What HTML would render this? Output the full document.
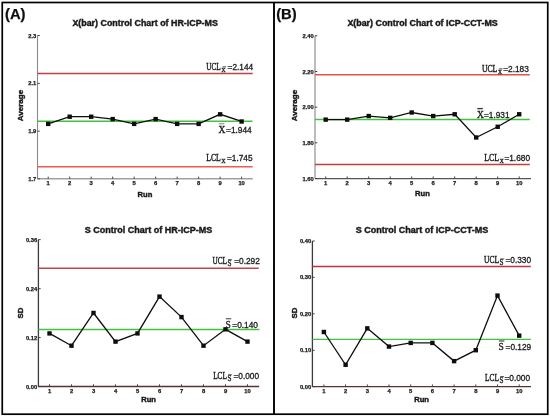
<!DOCTYPE html>
<html><head><meta charset="utf-8"><style>
html,body{margin:0;padding:0;background:#fff;}
svg{display:block;}
</style></head><body>
<svg width="550" height="417" viewBox="0 0 550 417">
<defs><filter id="soft" x="0" y="0" width="550" height="417" filterUnits="userSpaceOnUse"><feGaussianBlur stdDeviation="0.35"/></filter></defs>
<rect x="0" y="0" width="550" height="417" fill="#fff"/>
<g filter="url(#soft)">
<rect x="2.25" y="2.5" width="545.5" height="411.7" fill="none" stroke="#000" stroke-width="1.7"/>
<line x1="274" y1="2.5" x2="274" y2="414.2" stroke="#000" stroke-width="1.9"/>
<line x1="37.5" y1="35.5" x2="37.5" y2="178.8" stroke="#8a8a8a" stroke-width="1.1"/>
<line x1="37.5" y1="178.8" x2="252.8" y2="178.8" stroke="#a0a0a0" stroke-width="1.5"/>
<line x1="37.5" y1="35.5" x2="39.8" y2="35.5" stroke="#333" stroke-width="0.9"/>
<text x="36.3" y="37.5" font-family='"Liberation Sans", sans-serif' font-size="5.8" font-weight="bold" text-anchor="end" fill="#1a1a1a" stroke="#1a1a1a" stroke-width="0.25" >2.3</text>
<line x1="37.5" y1="83.4" x2="39.8" y2="83.4" stroke="#333" stroke-width="0.9"/>
<text x="36.3" y="85.4" font-family='"Liberation Sans", sans-serif' font-size="5.8" font-weight="bold" text-anchor="end" fill="#1a1a1a" stroke="#1a1a1a" stroke-width="0.25" >2.1</text>
<line x1="37.5" y1="131.2" x2="39.8" y2="131.2" stroke="#333" stroke-width="0.9"/>
<text x="36.3" y="133.2" font-family='"Liberation Sans", sans-serif' font-size="5.8" font-weight="bold" text-anchor="end" fill="#1a1a1a" stroke="#1a1a1a" stroke-width="0.25" >1.9</text>
<line x1="37.5" y1="178.8" x2="39.8" y2="178.8" stroke="#333" stroke-width="0.9"/>
<text x="36.3" y="180.8" font-family='"Liberation Sans", sans-serif' font-size="5.8" font-weight="bold" text-anchor="end" fill="#1a1a1a" stroke="#1a1a1a" stroke-width="0.25" >1.7</text>
<line x1="48.2" y1="178.8" x2="48.2" y2="176.60000000000002" stroke="#333" stroke-width="0.9"/>
<text x="48.2" y="185.3" font-family='"Liberation Sans", sans-serif' font-size="5.8" font-weight="bold" text-anchor="middle" fill="#1a1a1a" stroke="#1a1a1a" stroke-width="0.25" >1</text>
<line x1="69.69" y1="178.8" x2="69.69" y2="176.60000000000002" stroke="#333" stroke-width="0.9"/>
<text x="69.69" y="185.3" font-family='"Liberation Sans", sans-serif' font-size="5.8" font-weight="bold" text-anchor="middle" fill="#1a1a1a" stroke="#1a1a1a" stroke-width="0.25" >2</text>
<line x1="91.18" y1="178.8" x2="91.18" y2="176.60000000000002" stroke="#333" stroke-width="0.9"/>
<text x="91.18" y="185.3" font-family='"Liberation Sans", sans-serif' font-size="5.8" font-weight="bold" text-anchor="middle" fill="#1a1a1a" stroke="#1a1a1a" stroke-width="0.25" >3</text>
<line x1="112.67" y1="178.8" x2="112.67" y2="176.60000000000002" stroke="#333" stroke-width="0.9"/>
<text x="112.67" y="185.3" font-family='"Liberation Sans", sans-serif' font-size="5.8" font-weight="bold" text-anchor="middle" fill="#1a1a1a" stroke="#1a1a1a" stroke-width="0.25" >4</text>
<line x1="134.16" y1="178.8" x2="134.16" y2="176.60000000000002" stroke="#333" stroke-width="0.9"/>
<text x="134.16" y="185.3" font-family='"Liberation Sans", sans-serif' font-size="5.8" font-weight="bold" text-anchor="middle" fill="#1a1a1a" stroke="#1a1a1a" stroke-width="0.25" >5</text>
<line x1="155.64999999999998" y1="178.8" x2="155.64999999999998" y2="176.60000000000002" stroke="#333" stroke-width="0.9"/>
<text x="155.64999999999998" y="185.3" font-family='"Liberation Sans", sans-serif' font-size="5.8" font-weight="bold" text-anchor="middle" fill="#1a1a1a" stroke="#1a1a1a" stroke-width="0.25" >6</text>
<line x1="177.14" y1="178.8" x2="177.14" y2="176.60000000000002" stroke="#333" stroke-width="0.9"/>
<text x="177.14" y="185.3" font-family='"Liberation Sans", sans-serif' font-size="5.8" font-weight="bold" text-anchor="middle" fill="#1a1a1a" stroke="#1a1a1a" stroke-width="0.25" >7</text>
<line x1="198.63" y1="178.8" x2="198.63" y2="176.60000000000002" stroke="#333" stroke-width="0.9"/>
<text x="198.63" y="185.3" font-family='"Liberation Sans", sans-serif' font-size="5.8" font-weight="bold" text-anchor="middle" fill="#1a1a1a" stroke="#1a1a1a" stroke-width="0.25" >8</text>
<line x1="220.12" y1="178.8" x2="220.12" y2="176.60000000000002" stroke="#333" stroke-width="0.9"/>
<text x="220.12" y="185.3" font-family='"Liberation Sans", sans-serif' font-size="5.8" font-weight="bold" text-anchor="middle" fill="#1a1a1a" stroke="#1a1a1a" stroke-width="0.25" >9</text>
<line x1="241.61" y1="178.8" x2="241.61" y2="176.60000000000002" stroke="#333" stroke-width="0.9"/>
<text x="241.61" y="185.3" font-family='"Liberation Sans", sans-serif' font-size="5.8" font-weight="bold" text-anchor="middle" fill="#1a1a1a" stroke="#1a1a1a" stroke-width="0.25" >10</text>
<line x1="37.5" y1="73.5" x2="252.7" y2="73.5" stroke="#c83c44" stroke-width="1.5"/>
<line x1="37.5" y1="166.8" x2="252.7" y2="166.8" stroke="#f25858" stroke-width="1.5"/>
<line x1="37.5" y1="121.3" x2="252.5" y2="121.3" stroke="#40c440" stroke-width="1.4"/>
<polyline points="48.20,123.88 69.69,116.71 91.18,116.71 112.67,119.10 134.16,123.88 155.65,119.10 177.14,123.88 198.63,123.88 220.12,114.32 241.61,121.49" fill="none" stroke="#111" stroke-width="1.3"/>
<rect x="46.00" y="121.68" width="4.4" height="4.4" fill="#111"/>
<rect x="67.49" y="114.51" width="4.4" height="4.4" fill="#111"/>
<rect x="88.98" y="114.51" width="4.4" height="4.4" fill="#111"/>
<rect x="110.47" y="116.90" width="4.4" height="4.4" fill="#111"/>
<rect x="131.96" y="121.68" width="4.4" height="4.4" fill="#111"/>
<rect x="153.45" y="116.90" width="4.4" height="4.4" fill="#111"/>
<rect x="174.94" y="121.68" width="4.4" height="4.4" fill="#111"/>
<rect x="196.43" y="121.68" width="4.4" height="4.4" fill="#111"/>
<rect x="217.92" y="112.12" width="4.4" height="4.4" fill="#111"/>
<rect x="239.41" y="119.29" width="4.4" height="4.4" fill="#111"/>
<text x="72.4" y="25.9" font-family='"Liberation Sans", sans-serif' font-size="8.9" font-weight="bold" text-anchor="start" fill="#1a1a1a" stroke="#1a1a1a" stroke-width="0.42" >X(bar) Control Chart of HR-ICP-MS</text>
<text x="0" y="0" transform="translate(22.6,105.5) rotate(-90)" font-family='"Liberation Sans", sans-serif' font-size="8.1" font-weight="bold" text-anchor="middle" fill="#1a1a1a" stroke="#1a1a1a" stroke-width="0.4">Average</text>
<text x="145" y="196.5" font-family='"Liberation Sans", sans-serif' font-size="7.6" font-weight="bold" text-anchor="middle" fill="#1a1a1a" stroke="#1a1a1a" stroke-width="0.42" >Run</text>
<text x="206.3" y="69.8" font-family='"Liberation Serif", serif' font-size="9.5" fill="#1a1a1a" stroke="#1a1a1a" stroke-width="0.4" textLength="14.5" lengthAdjust="spacingAndGlyphs">UCL</text>
<text x="221.4" y="71.6" font-family='"Liberation Serif", serif' font-size="8.0" fill="#1a1a1a" stroke="#1a1a1a" stroke-width="0.3">x</text>
<line x1="222.6" y1="66.8" x2="226.0" y2="66.8" stroke="#444" stroke-width="0.9"/>
<text x="253.2" y="69.8" font-family='"Liberation Sans", sans-serif' font-size="8.3" font-weight="normal" text-anchor="end" fill="#1a1a1a" stroke="#1a1a1a" stroke-width="0.3" >=2.144</text>
<text x="206.3" y="160.9" font-family='"Liberation Serif", serif' font-size="9.5" fill="#1a1a1a" stroke="#1a1a1a" stroke-width="0.4" textLength="14.5" lengthAdjust="spacingAndGlyphs">LCL</text>
<text x="221.4" y="162.70000000000002" font-family='"Liberation Serif", serif' font-size="8.0" fill="#1a1a1a" stroke="#1a1a1a" stroke-width="0.3">x</text>
<text x="252.6" y="160.9" font-family='"Liberation Sans", sans-serif' font-size="8.3" font-weight="normal" text-anchor="end" fill="#1a1a1a" stroke="#1a1a1a" stroke-width="0.3" >=1.745</text>
<text x="218.5" y="132.7" font-family='"Liberation Serif", serif' font-size="9.5" fill="#1a1a1a" stroke="#1a1a1a" stroke-width="0.3">X</text>
<line x1="218.8" y1="123.7" x2="224.3" y2="123.7" stroke="#a0a0a0" stroke-width="1.3"/>
<text x="251.7" y="132.7" font-family='"Liberation Sans", sans-serif' font-size="8.3" font-weight="normal" text-anchor="end" fill="#1a1a1a" stroke="#1a1a1a" stroke-width="0.3" >=1.944</text>
<line x1="38.4" y1="239.6" x2="38.4" y2="386.5" stroke="#3a3a3a" stroke-width="1.3"/>
<line x1="38.4" y1="386.5" x2="259.2" y2="386.5" stroke="#5a3236" stroke-width="1.4"/>
<line x1="38.4" y1="239.6" x2="40.699999999999996" y2="239.6" stroke="#333" stroke-width="0.9"/>
<text x="37.199999999999996" y="241.6" font-family='"Liberation Sans", sans-serif' font-size="5.8" font-weight="bold" text-anchor="end" fill="#1a1a1a" stroke="#1a1a1a" stroke-width="0.25" >0.36</text>
<line x1="38.4" y1="288.7" x2="40.699999999999996" y2="288.7" stroke="#333" stroke-width="0.9"/>
<text x="37.199999999999996" y="290.7" font-family='"Liberation Sans", sans-serif' font-size="5.8" font-weight="bold" text-anchor="end" fill="#1a1a1a" stroke="#1a1a1a" stroke-width="0.25" >0.24</text>
<line x1="38.4" y1="337.6" x2="40.699999999999996" y2="337.6" stroke="#333" stroke-width="0.9"/>
<text x="37.199999999999996" y="339.6" font-family='"Liberation Sans", sans-serif' font-size="5.8" font-weight="bold" text-anchor="end" fill="#1a1a1a" stroke="#1a1a1a" stroke-width="0.25" >0.12</text>
<line x1="38.4" y1="386.6" x2="40.699999999999996" y2="386.6" stroke="#333" stroke-width="0.9"/>
<text x="37.199999999999996" y="388.6" font-family='"Liberation Sans", sans-serif' font-size="5.8" font-weight="bold" text-anchor="end" fill="#1a1a1a" stroke="#1a1a1a" stroke-width="0.25" >0.00</text>
<line x1="49.5" y1="386.5" x2="49.5" y2="384.3" stroke="#333" stroke-width="0.9"/>
<text x="49.5" y="393.0" font-family='"Liberation Sans", sans-serif' font-size="5.8" font-weight="bold" text-anchor="middle" fill="#1a1a1a" stroke="#1a1a1a" stroke-width="0.25" >1</text>
<line x1="71.5" y1="386.5" x2="71.5" y2="384.3" stroke="#333" stroke-width="0.9"/>
<text x="71.5" y="393.0" font-family='"Liberation Sans", sans-serif' font-size="5.8" font-weight="bold" text-anchor="middle" fill="#1a1a1a" stroke="#1a1a1a" stroke-width="0.25" >2</text>
<line x1="93.5" y1="386.5" x2="93.5" y2="384.3" stroke="#333" stroke-width="0.9"/>
<text x="93.5" y="393.0" font-family='"Liberation Sans", sans-serif' font-size="5.8" font-weight="bold" text-anchor="middle" fill="#1a1a1a" stroke="#1a1a1a" stroke-width="0.25" >3</text>
<line x1="115.5" y1="386.5" x2="115.5" y2="384.3" stroke="#333" stroke-width="0.9"/>
<text x="115.5" y="393.0" font-family='"Liberation Sans", sans-serif' font-size="5.8" font-weight="bold" text-anchor="middle" fill="#1a1a1a" stroke="#1a1a1a" stroke-width="0.25" >4</text>
<line x1="137.5" y1="386.5" x2="137.5" y2="384.3" stroke="#333" stroke-width="0.9"/>
<text x="137.5" y="393.0" font-family='"Liberation Sans", sans-serif' font-size="5.8" font-weight="bold" text-anchor="middle" fill="#1a1a1a" stroke="#1a1a1a" stroke-width="0.25" >5</text>
<line x1="159.5" y1="386.5" x2="159.5" y2="384.3" stroke="#333" stroke-width="0.9"/>
<text x="159.5" y="393.0" font-family='"Liberation Sans", sans-serif' font-size="5.8" font-weight="bold" text-anchor="middle" fill="#1a1a1a" stroke="#1a1a1a" stroke-width="0.25" >6</text>
<line x1="181.5" y1="386.5" x2="181.5" y2="384.3" stroke="#333" stroke-width="0.9"/>
<text x="181.5" y="393.0" font-family='"Liberation Sans", sans-serif' font-size="5.8" font-weight="bold" text-anchor="middle" fill="#1a1a1a" stroke="#1a1a1a" stroke-width="0.25" >7</text>
<line x1="203.5" y1="386.5" x2="203.5" y2="384.3" stroke="#333" stroke-width="0.9"/>
<text x="203.5" y="393.0" font-family='"Liberation Sans", sans-serif' font-size="5.8" font-weight="bold" text-anchor="middle" fill="#1a1a1a" stroke="#1a1a1a" stroke-width="0.25" >8</text>
<line x1="225.5" y1="386.5" x2="225.5" y2="384.3" stroke="#333" stroke-width="0.9"/>
<text x="225.5" y="393.0" font-family='"Liberation Sans", sans-serif' font-size="5.8" font-weight="bold" text-anchor="middle" fill="#1a1a1a" stroke="#1a1a1a" stroke-width="0.25" >9</text>
<line x1="247.5" y1="386.5" x2="247.5" y2="384.3" stroke="#333" stroke-width="0.9"/>
<text x="247.5" y="393.0" font-family='"Liberation Sans", sans-serif' font-size="5.8" font-weight="bold" text-anchor="middle" fill="#1a1a1a" stroke="#1a1a1a" stroke-width="0.25" >10</text>
<line x1="38.4" y1="268.3" x2="258.8" y2="268.3" stroke="#be4650" stroke-width="1.5"/>
<line x1="38.4" y1="329.5" x2="259.4" y2="329.5" stroke="#40c440" stroke-width="1.4"/>
<polyline points="49.50,333.43 71.50,345.70 93.50,312.98 115.50,341.61 137.50,333.43 159.50,296.62 181.50,317.07 203.50,345.70 225.50,329.34 247.50,341.61" fill="none" stroke="#111" stroke-width="1.3"/>
<rect x="47.30" y="331.23" width="4.4" height="4.4" fill="#111"/>
<rect x="69.30" y="343.50" width="4.4" height="4.4" fill="#111"/>
<rect x="91.30" y="310.78" width="4.4" height="4.4" fill="#111"/>
<rect x="113.30" y="339.41" width="4.4" height="4.4" fill="#111"/>
<rect x="135.30" y="331.23" width="4.4" height="4.4" fill="#111"/>
<rect x="157.30" y="294.42" width="4.4" height="4.4" fill="#111"/>
<rect x="179.30" y="314.87" width="4.4" height="4.4" fill="#111"/>
<rect x="201.30" y="343.50" width="4.4" height="4.4" fill="#111"/>
<rect x="223.30" y="327.14" width="4.4" height="4.4" fill="#111"/>
<rect x="245.30" y="339.41" width="4.4" height="4.4" fill="#111"/>
<text x="84.7" y="232.7" font-family='"Liberation Sans", sans-serif' font-size="9.0" font-weight="bold" text-anchor="start" fill="#1a1a1a" stroke="#1a1a1a" stroke-width="0.42" >S Control Chart of HR-ICP-MS</text>
<text x="0" y="0" transform="translate(23.3,313) rotate(-90)" font-family='"Liberation Sans", sans-serif' font-size="7.9" font-weight="bold" text-anchor="middle" fill="#1a1a1a" stroke="#1a1a1a" stroke-width="0.4">SD</text>
<text x="148.6" y="401.9" font-family='"Liberation Sans", sans-serif' font-size="7.6" font-weight="bold" text-anchor="middle" fill="#1a1a1a" stroke="#1a1a1a" stroke-width="0.42" >Run</text>
<text x="212.4" y="264.0" font-family='"Liberation Serif", serif' font-size="9.5" fill="#1a1a1a" stroke="#1a1a1a" stroke-width="0.4" textLength="14.5" lengthAdjust="spacingAndGlyphs">UCL</text>
<text x="227.4" y="265.8" font-family='"Liberation Serif", serif' font-size="7.2" fill="#1a1a1a" stroke="#1a1a1a" stroke-width="0.3">S</text>
<line x1="228.0" y1="259.7" x2="232.0" y2="259.7" stroke="#444" stroke-width="0.9"/>
<text x="259.8" y="264.0" font-family='"Liberation Sans", sans-serif' font-size="8.3" font-weight="normal" text-anchor="end" fill="#1a1a1a" stroke="#1a1a1a" stroke-width="0.3" >=0.292</text>
<text x="213.2" y="379.1" font-family='"Liberation Serif", serif' font-size="9.5" fill="#1a1a1a" stroke="#1a1a1a" stroke-width="0.4" textLength="13.7" lengthAdjust="spacingAndGlyphs">LCL</text>
<text x="227.39999999999998" y="380.90000000000003" font-family='"Liberation Serif", serif' font-size="7.2" fill="#1a1a1a" stroke="#1a1a1a" stroke-width="0.3">S</text>
<line x1="227.99999999999997" y1="374.8" x2="231.99999999999997" y2="374.8" stroke="#444" stroke-width="0.9"/>
<text x="259.1" y="379.1" font-family='"Liberation Sans", sans-serif' font-size="8.3" font-weight="normal" text-anchor="end" fill="#1a1a1a" stroke="#1a1a1a" stroke-width="0.3" >=0.000</text>
<text x="225.5" y="327.5" font-family='"Liberation Serif", serif' font-size="9.5" fill="#1a1a1a" stroke="#1a1a1a" stroke-width="0.3">S</text>
<line x1="225.8" y1="318.7" x2="231.3" y2="318.7" stroke="#666" stroke-width="1.3"/>
<text x="257.9" y="327.5" font-family='"Liberation Sans", sans-serif' font-size="8.3" font-weight="normal" text-anchor="end" fill="#1a1a1a" stroke="#1a1a1a" stroke-width="0.3" >=0.140</text>
<line x1="315.0" y1="35.8" x2="315.0" y2="178.6" stroke="#999999" stroke-width="1.3"/>
<line x1="315.0" y1="178.6" x2="531" y2="178.6" stroke="#555555" stroke-width="1.3"/>
<line x1="315.0" y1="35.8" x2="317.3" y2="35.8" stroke="#333" stroke-width="0.9"/>
<text x="313.8" y="37.8" font-family='"Liberation Sans", sans-serif' font-size="5.8" font-weight="bold" text-anchor="end" fill="#1a1a1a" stroke="#1a1a1a" stroke-width="0.25" >2.40</text>
<line x1="315.0" y1="71.5" x2="317.3" y2="71.5" stroke="#333" stroke-width="0.9"/>
<text x="313.8" y="73.5" font-family='"Liberation Sans", sans-serif' font-size="5.8" font-weight="bold" text-anchor="end" fill="#1a1a1a" stroke="#1a1a1a" stroke-width="0.25" >2.20</text>
<line x1="315.0" y1="107.2" x2="317.3" y2="107.2" stroke="#333" stroke-width="0.9"/>
<text x="313.8" y="109.2" font-family='"Liberation Sans", sans-serif' font-size="5.8" font-weight="bold" text-anchor="end" fill="#1a1a1a" stroke="#1a1a1a" stroke-width="0.25" >2.00</text>
<line x1="315.0" y1="142.8" x2="317.3" y2="142.8" stroke="#333" stroke-width="0.9"/>
<text x="313.8" y="144.8" font-family='"Liberation Sans", sans-serif' font-size="5.8" font-weight="bold" text-anchor="end" fill="#1a1a1a" stroke="#1a1a1a" stroke-width="0.25" >1.80</text>
<line x1="315.0" y1="178.5" x2="317.3" y2="178.5" stroke="#333" stroke-width="0.9"/>
<text x="313.8" y="180.5" font-family='"Liberation Sans", sans-serif' font-size="5.8" font-weight="bold" text-anchor="end" fill="#1a1a1a" stroke="#1a1a1a" stroke-width="0.25" >1.60</text>
<line x1="325.7" y1="178.6" x2="325.7" y2="176.4" stroke="#333" stroke-width="0.9"/>
<text x="325.7" y="185.1" font-family='"Liberation Sans", sans-serif' font-size="5.8" font-weight="bold" text-anchor="middle" fill="#1a1a1a" stroke="#1a1a1a" stroke-width="0.25" >1</text>
<line x1="347.2" y1="178.6" x2="347.2" y2="176.4" stroke="#333" stroke-width="0.9"/>
<text x="347.2" y="185.1" font-family='"Liberation Sans", sans-serif' font-size="5.8" font-weight="bold" text-anchor="middle" fill="#1a1a1a" stroke="#1a1a1a" stroke-width="0.25" >2</text>
<line x1="368.7" y1="178.6" x2="368.7" y2="176.4" stroke="#333" stroke-width="0.9"/>
<text x="368.7" y="185.1" font-family='"Liberation Sans", sans-serif' font-size="5.8" font-weight="bold" text-anchor="middle" fill="#1a1a1a" stroke="#1a1a1a" stroke-width="0.25" >3</text>
<line x1="390.2" y1="178.6" x2="390.2" y2="176.4" stroke="#333" stroke-width="0.9"/>
<text x="390.2" y="185.1" font-family='"Liberation Sans", sans-serif' font-size="5.8" font-weight="bold" text-anchor="middle" fill="#1a1a1a" stroke="#1a1a1a" stroke-width="0.25" >4</text>
<line x1="411.7" y1="178.6" x2="411.7" y2="176.4" stroke="#333" stroke-width="0.9"/>
<text x="411.7" y="185.1" font-family='"Liberation Sans", sans-serif' font-size="5.8" font-weight="bold" text-anchor="middle" fill="#1a1a1a" stroke="#1a1a1a" stroke-width="0.25" >5</text>
<line x1="433.2" y1="178.6" x2="433.2" y2="176.4" stroke="#333" stroke-width="0.9"/>
<text x="433.2" y="185.1" font-family='"Liberation Sans", sans-serif' font-size="5.8" font-weight="bold" text-anchor="middle" fill="#1a1a1a" stroke="#1a1a1a" stroke-width="0.25" >6</text>
<line x1="454.7" y1="178.6" x2="454.7" y2="176.4" stroke="#333" stroke-width="0.9"/>
<text x="454.7" y="185.1" font-family='"Liberation Sans", sans-serif' font-size="5.8" font-weight="bold" text-anchor="middle" fill="#1a1a1a" stroke="#1a1a1a" stroke-width="0.25" >7</text>
<line x1="476.2" y1="178.6" x2="476.2" y2="176.4" stroke="#333" stroke-width="0.9"/>
<text x="476.2" y="185.1" font-family='"Liberation Sans", sans-serif' font-size="5.8" font-weight="bold" text-anchor="middle" fill="#1a1a1a" stroke="#1a1a1a" stroke-width="0.25" >8</text>
<line x1="497.7" y1="178.6" x2="497.7" y2="176.4" stroke="#333" stroke-width="0.9"/>
<text x="497.7" y="185.1" font-family='"Liberation Sans", sans-serif' font-size="5.8" font-weight="bold" text-anchor="middle" fill="#1a1a1a" stroke="#1a1a1a" stroke-width="0.25" >9</text>
<line x1="519.2" y1="178.6" x2="519.2" y2="176.4" stroke="#333" stroke-width="0.9"/>
<text x="519.2" y="185.1" font-family='"Liberation Sans", sans-serif' font-size="5.8" font-weight="bold" text-anchor="middle" fill="#1a1a1a" stroke="#1a1a1a" stroke-width="0.25" >10</text>
<line x1="315.0" y1="74.8" x2="529.8" y2="74.8" stroke="#e8504a" stroke-width="1.5"/>
<line x1="315.0" y1="164.4" x2="529.8" y2="164.4" stroke="#c0403c" stroke-width="1.5"/>
<line x1="315.0" y1="119.5" x2="529.8" y2="119.5" stroke="#40c440" stroke-width="1.4"/>
<polyline points="325.70,119.63 347.20,119.63 368.70,116.06 390.20,117.84 411.70,112.49 433.20,116.06 454.70,114.28 476.20,137.47 497.70,126.76 519.20,114.28" fill="none" stroke="#111" stroke-width="1.3"/>
<rect x="323.50" y="117.43" width="4.4" height="4.4" fill="#111"/>
<rect x="345.00" y="117.43" width="4.4" height="4.4" fill="#111"/>
<rect x="366.50" y="113.86" width="4.4" height="4.4" fill="#111"/>
<rect x="388.00" y="115.64" width="4.4" height="4.4" fill="#111"/>
<rect x="409.50" y="110.29" width="4.4" height="4.4" fill="#111"/>
<rect x="431.00" y="113.86" width="4.4" height="4.4" fill="#111"/>
<rect x="452.50" y="112.08" width="4.4" height="4.4" fill="#111"/>
<rect x="474.00" y="135.27" width="4.4" height="4.4" fill="#111"/>
<rect x="495.50" y="124.56" width="4.4" height="4.4" fill="#111"/>
<rect x="517.00" y="112.08" width="4.4" height="4.4" fill="#111"/>
<text x="347.4" y="25.9" font-family='"Liberation Sans", sans-serif' font-size="8.9" font-weight="bold" text-anchor="start" fill="#1a1a1a" stroke="#1a1a1a" stroke-width="0.42" >X(bar) Control Chart of ICP-CCT-MS</text>
<text x="0" y="0" transform="translate(296.9,105.5) rotate(-90)" font-family='"Liberation Sans", sans-serif' font-size="8.1" font-weight="bold" text-anchor="middle" fill="#1a1a1a" stroke="#1a1a1a" stroke-width="0.4">Average</text>
<text x="422.5" y="196.2" font-family='"Liberation Sans", sans-serif' font-size="7.6" font-weight="bold" text-anchor="middle" fill="#1a1a1a" stroke="#1a1a1a" stroke-width="0.42" >Run</text>
<text x="481.9" y="71.8" font-family='"Liberation Serif", serif' font-size="9.5" fill="#1a1a1a" stroke="#1a1a1a" stroke-width="0.4" textLength="15.4" lengthAdjust="spacingAndGlyphs">UCL</text>
<text x="497.9" y="73.6" font-family='"Liberation Serif", serif' font-size="8.0" fill="#1a1a1a" stroke="#1a1a1a" stroke-width="0.3">x</text>
<line x1="499.09999999999997" y1="68.8" x2="502.5" y2="68.8" stroke="#444" stroke-width="0.9"/>
<text x="528.8" y="71.8" font-family='"Liberation Sans", sans-serif' font-size="8.3" font-weight="normal" text-anchor="end" fill="#1a1a1a" stroke="#1a1a1a" stroke-width="0.3" >=2.183</text>
<text x="484.3" y="160.9" font-family='"Liberation Serif", serif' font-size="9.5" fill="#1a1a1a" stroke="#1a1a1a" stroke-width="0.4" textLength="14.8" lengthAdjust="spacingAndGlyphs">LCL</text>
<text x="499.70000000000005" y="162.70000000000002" font-family='"Liberation Serif", serif' font-size="8.0" fill="#1a1a1a" stroke="#1a1a1a" stroke-width="0.3">x</text>
<text x="530.0" y="160.9" font-family='"Liberation Sans", sans-serif' font-size="8.3" font-weight="normal" text-anchor="end" fill="#1a1a1a" stroke="#1a1a1a" stroke-width="0.3" >=1.680</text>
<text x="477.0" y="117.5" font-family='"Liberation Serif", serif' font-size="9.5" fill="#1a1a1a" stroke="#1a1a1a" stroke-width="0.3">X</text>
<line x1="477.3" y1="108.6" x2="482.8" y2="108.6" stroke="#333" stroke-width="1.3"/>
<text x="509.6" y="117.5" font-family='"Liberation Sans", sans-serif' font-size="8.3" font-weight="normal" text-anchor="end" fill="#1a1a1a" stroke="#1a1a1a" stroke-width="0.3" >=1.931</text>
<line x1="312.4" y1="241.0" x2="312.4" y2="386.6" stroke="#3a3a3a" stroke-width="1.3"/>
<line x1="312.4" y1="386.6" x2="531" y2="386.6" stroke="#5a3236" stroke-width="1.4"/>
<line x1="312.4" y1="241.0" x2="314.7" y2="241.0" stroke="#333" stroke-width="0.9"/>
<text x="311.2" y="243.0" font-family='"Liberation Sans", sans-serif' font-size="5.8" font-weight="bold" text-anchor="end" fill="#1a1a1a" stroke="#1a1a1a" stroke-width="0.25" >0.40</text>
<line x1="312.4" y1="277.3" x2="314.7" y2="277.3" stroke="#333" stroke-width="0.9"/>
<text x="311.2" y="279.3" font-family='"Liberation Sans", sans-serif' font-size="5.8" font-weight="bold" text-anchor="end" fill="#1a1a1a" stroke="#1a1a1a" stroke-width="0.25" >0.30</text>
<line x1="312.4" y1="313.8" x2="314.7" y2="313.8" stroke="#333" stroke-width="0.9"/>
<text x="311.2" y="315.8" font-family='"Liberation Sans", sans-serif' font-size="5.8" font-weight="bold" text-anchor="end" fill="#1a1a1a" stroke="#1a1a1a" stroke-width="0.25" >0.20</text>
<line x1="312.4" y1="350.3" x2="314.7" y2="350.3" stroke="#333" stroke-width="0.9"/>
<text x="311.2" y="352.3" font-family='"Liberation Sans", sans-serif' font-size="5.8" font-weight="bold" text-anchor="end" fill="#1a1a1a" stroke="#1a1a1a" stroke-width="0.25" >0.10</text>
<line x1="312.4" y1="386.6" x2="314.7" y2="386.6" stroke="#333" stroke-width="0.9"/>
<text x="311.2" y="388.6" font-family='"Liberation Sans", sans-serif' font-size="5.8" font-weight="bold" text-anchor="end" fill="#1a1a1a" stroke="#1a1a1a" stroke-width="0.25" >0.00</text>
<line x1="323.9" y1="386.6" x2="323.9" y2="384.40000000000003" stroke="#333" stroke-width="0.9"/>
<text x="323.9" y="393.1" font-family='"Liberation Sans", sans-serif' font-size="5.8" font-weight="bold" text-anchor="middle" fill="#1a1a1a" stroke="#1a1a1a" stroke-width="0.25" >1</text>
<line x1="345.59999999999997" y1="386.6" x2="345.59999999999997" y2="384.40000000000003" stroke="#333" stroke-width="0.9"/>
<text x="345.59999999999997" y="393.1" font-family='"Liberation Sans", sans-serif' font-size="5.8" font-weight="bold" text-anchor="middle" fill="#1a1a1a" stroke="#1a1a1a" stroke-width="0.25" >2</text>
<line x1="367.29999999999995" y1="386.6" x2="367.29999999999995" y2="384.40000000000003" stroke="#333" stroke-width="0.9"/>
<text x="367.29999999999995" y="393.1" font-family='"Liberation Sans", sans-serif' font-size="5.8" font-weight="bold" text-anchor="middle" fill="#1a1a1a" stroke="#1a1a1a" stroke-width="0.25" >3</text>
<line x1="389.0" y1="386.6" x2="389.0" y2="384.40000000000003" stroke="#333" stroke-width="0.9"/>
<text x="389.0" y="393.1" font-family='"Liberation Sans", sans-serif' font-size="5.8" font-weight="bold" text-anchor="middle" fill="#1a1a1a" stroke="#1a1a1a" stroke-width="0.25" >4</text>
<line x1="410.7" y1="386.6" x2="410.7" y2="384.40000000000003" stroke="#333" stroke-width="0.9"/>
<text x="410.7" y="393.1" font-family='"Liberation Sans", sans-serif' font-size="5.8" font-weight="bold" text-anchor="middle" fill="#1a1a1a" stroke="#1a1a1a" stroke-width="0.25" >5</text>
<line x1="432.4" y1="386.6" x2="432.4" y2="384.40000000000003" stroke="#333" stroke-width="0.9"/>
<text x="432.4" y="393.1" font-family='"Liberation Sans", sans-serif' font-size="5.8" font-weight="bold" text-anchor="middle" fill="#1a1a1a" stroke="#1a1a1a" stroke-width="0.25" >6</text>
<line x1="454.09999999999997" y1="386.6" x2="454.09999999999997" y2="384.40000000000003" stroke="#333" stroke-width="0.9"/>
<text x="454.09999999999997" y="393.1" font-family='"Liberation Sans", sans-serif' font-size="5.8" font-weight="bold" text-anchor="middle" fill="#1a1a1a" stroke="#1a1a1a" stroke-width="0.25" >7</text>
<line x1="475.79999999999995" y1="386.6" x2="475.79999999999995" y2="384.40000000000003" stroke="#333" stroke-width="0.9"/>
<text x="475.79999999999995" y="393.1" font-family='"Liberation Sans", sans-serif' font-size="5.8" font-weight="bold" text-anchor="middle" fill="#1a1a1a" stroke="#1a1a1a" stroke-width="0.25" >8</text>
<line x1="497.5" y1="386.6" x2="497.5" y2="384.40000000000003" stroke="#333" stroke-width="0.9"/>
<text x="497.5" y="393.1" font-family='"Liberation Sans", sans-serif' font-size="5.8" font-weight="bold" text-anchor="middle" fill="#1a1a1a" stroke="#1a1a1a" stroke-width="0.25" >9</text>
<line x1="519.1999999999999" y1="386.6" x2="519.1999999999999" y2="384.40000000000003" stroke="#333" stroke-width="0.9"/>
<text x="519.1999999999999" y="393.1" font-family='"Liberation Sans", sans-serif' font-size="5.8" font-weight="bold" text-anchor="middle" fill="#1a1a1a" stroke="#1a1a1a" stroke-width="0.25" >10</text>
<line x1="312.4" y1="266.4" x2="530.8" y2="266.4" stroke="#be3440" stroke-width="1.5"/>
<line x1="312.4" y1="339.4" x2="530.9" y2="339.4" stroke="#40c440" stroke-width="1.4"/>
<polyline points="323.90,332.00 345.60,364.76 367.30,328.36 389.00,346.56 410.70,342.92 432.40,342.92 454.10,361.12 475.80,350.20 497.50,295.60 519.20,335.64" fill="none" stroke="#111" stroke-width="1.3"/>
<rect x="321.70" y="329.80" width="4.4" height="4.4" fill="#111"/>
<rect x="343.40" y="362.56" width="4.4" height="4.4" fill="#111"/>
<rect x="365.10" y="326.16" width="4.4" height="4.4" fill="#111"/>
<rect x="386.80" y="344.36" width="4.4" height="4.4" fill="#111"/>
<rect x="408.50" y="340.72" width="4.4" height="4.4" fill="#111"/>
<rect x="430.20" y="340.72" width="4.4" height="4.4" fill="#111"/>
<rect x="451.90" y="358.92" width="4.4" height="4.4" fill="#111"/>
<rect x="473.60" y="348.00" width="4.4" height="4.4" fill="#111"/>
<rect x="495.30" y="293.40" width="4.4" height="4.4" fill="#111"/>
<rect x="517.00" y="333.44" width="4.4" height="4.4" fill="#111"/>
<text x="355.8" y="232.7" font-family='"Liberation Sans", sans-serif' font-size="9.0" font-weight="bold" text-anchor="start" fill="#1a1a1a" stroke="#1a1a1a" stroke-width="0.42" >S Control Chart of ICP-CCT-MS</text>
<text x="0" y="0" transform="translate(297.0,313) rotate(-90)" font-family='"Liberation Sans", sans-serif' font-size="7.9" font-weight="bold" text-anchor="middle" fill="#1a1a1a" stroke="#1a1a1a" stroke-width="0.4">SD</text>
<text x="421.6" y="401.8" font-family='"Liberation Sans", sans-serif' font-size="7.6" font-weight="bold" text-anchor="middle" fill="#1a1a1a" stroke="#1a1a1a" stroke-width="0.42" >Run</text>
<text x="484.1" y="263.3" font-family='"Liberation Serif", serif' font-size="9.5" fill="#1a1a1a" stroke="#1a1a1a" stroke-width="0.4" textLength="15.0" lengthAdjust="spacingAndGlyphs">UCL</text>
<text x="499.6" y="265.1" font-family='"Liberation Serif", serif' font-size="7.2" fill="#1a1a1a" stroke="#1a1a1a" stroke-width="0.3">S</text>
<line x1="500.20000000000005" y1="259.0" x2="504.20000000000005" y2="259.0" stroke="#444" stroke-width="0.9"/>
<text x="531.1" y="263.3" font-family='"Liberation Sans", sans-serif' font-size="8.3" font-weight="normal" text-anchor="end" fill="#1a1a1a" stroke="#1a1a1a" stroke-width="0.3" >=0.330</text>
<text x="485.1" y="380.9" font-family='"Liberation Serif", serif' font-size="9.5" fill="#1a1a1a" stroke="#1a1a1a" stroke-width="0.4" textLength="13.9" lengthAdjust="spacingAndGlyphs">LCL</text>
<text x="499.5" y="382.7" font-family='"Liberation Serif", serif' font-size="7.2" fill="#1a1a1a" stroke="#1a1a1a" stroke-width="0.3">S</text>
<line x1="500.1" y1="376.59999999999997" x2="504.1" y2="376.59999999999997" stroke="#444" stroke-width="0.9"/>
<text x="530.1" y="380.9" font-family='"Liberation Sans", sans-serif' font-size="8.3" font-weight="normal" text-anchor="end" fill="#1a1a1a" stroke="#1a1a1a" stroke-width="0.3" >=0.000</text>
<text x="498.6" y="349.6" font-family='"Liberation Serif", serif' font-size="9.5" fill="#1a1a1a" stroke="#1a1a1a" stroke-width="0.3">S</text>
<line x1="498.90000000000003" y1="341.0" x2="504.40000000000003" y2="341.0" stroke="#555" stroke-width="1.3"/>
<text x="531.2" y="349.6" font-family='"Liberation Sans", sans-serif' font-size="8.3" font-weight="normal" text-anchor="end" fill="#1a1a1a" stroke="#1a1a1a" stroke-width="0.3" >=0.129</text>
<text x="5.0" y="18.6" font-family='"Liberation Sans", sans-serif' font-size="14.8" font-weight="bold" text-anchor="start" fill="#111" stroke="#111" stroke-width="0.25" >(A)</text>
<text x="276.2" y="18.6" font-family='"Liberation Sans", sans-serif' font-size="14.8" font-weight="bold" text-anchor="start" fill="#111" stroke="#111" stroke-width="0.25" >(B)</text>
</g>
</svg>
</body></html>
